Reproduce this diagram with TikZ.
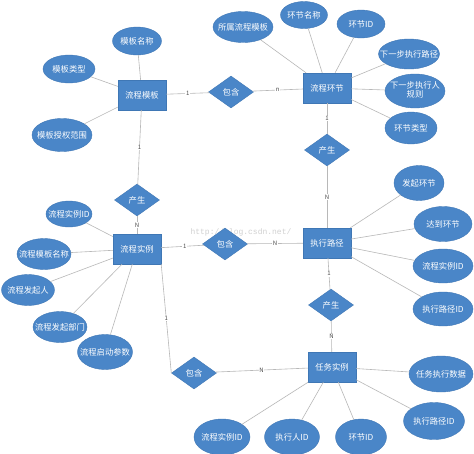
\documentclass[tikz,border=0pt]{standalone}
\usepackage{fontspec}
\setmainfont{Noto Sans CJK SC}
\newfontfamily\wmfont{Liberation Mono}
\usetikzlibrary{shapes.geometric}
\definecolor{erblue}{HTML}{4A86C8}
\definecolor{erborder}{HTML}{3F77B5}
\definecolor{lncol}{HTML}{B8B8B8}
\tikzset{
  base/.style={fill=erblue, draw=erborder, line width=0.4pt, text=white, inner sep=0pt, font=\fontsize{8.3}{9.5}\selectfont},
  ent/.style={base, rectangle, minimum width=48pt, minimum height=30pt},
  rel/.style={base, diamond, minimum width=45pt, minimum height=32pt},
  ell/.style 2 args={base, ellipse, minimum width=#1pt, minimum height=#2pt},
  ln/.style={draw=lncol, line width=0.6pt},
  lbl/.style={fill=white, inner sep=0.6pt, text=black!70, font=\fontsize{6}{7}\selectfont},
}
\newcommand{\zt}[1]{\makebox[0pt]{#1}}
\begin{document}
\begin{tikzpicture}[x=1pt,y=-1pt]
\useasboundingbox (0,0) rectangle (474,453);
\fill[white] (0,0) rectangle (474,453);
% watermark
\node[text=black!18, font=\wmfont\fontsize{8}{9}\selectfont, inner sep=0pt] (wm) at (241,232) {http://blog.csdn.net/};
% entities
\node[ent] (mb) at (142,95) {\zt{流程模板}};
\node[ent] (hj) at (327,88) {\zt{流程环节}};
\node[ent] (sl) at (137,249) {\zt{流程实例}};
\node[ent] (lj) at (327,243) {\zt{执行路径}};
\node[ent] (rw) at (332,367) {\zt{任务实例}};
% relations
\node[rel] (bh1) at (231,92) {\zt{包含}};
\node[rel] (cs1) at (327,150) {\zt{产生}};
\node[rel] (cs2) at (137,200) {\zt{产生}};
\node[rel] (bh2) at (225,244) {\zt{包含}};
\node[rel] (cs3) at (331,305) {\zt{产生}};
\node[rel] (bh3) at (194,373) {\zt{包含}};
% attributes of 流程模板
\node[ell={49}{28}] (a1) at (137,41) {\zt{模板名称}};
\node[ell={52}{28}] (a2) at (69,69) {\zt{模板类型}};
\node[ell={60}{33}] (a3) at (62,135) {\zt{模板授权范围}};
% attributes of 流程环节
\node[ell={60}{31}] (b1) at (243,27) {\zt{所属流程模板}};
\node[ell={47}{27}] (b2) at (304,15) {\zt{环节名称}};
\node[ell={48}{28}] (b3) at (361,24) {\zt{环节ID}};
\node[ell={61}{30}] (b4) at (409,54) {\zt{下一步执行路径}};
\node[ell={60}{34}] (b5) at (415,91) {\zt{\begin{tabular}{@{}c@{}}下一步执行人\\[-1pt]规则\end{tabular}}};
\node[ell={52}{32}] (b6) at (411,128) {\zt{环节类型}};
% attributes of 流程实例
\node[ell={46}{26}] (c1) at (69,214) {\zt{流程实例ID}};
\node[ell={54}{31}] (c2) at (44,254) {\zt{流程模板名称}};
\node[ell={53}{31}] (c3) at (28,290) {\zt{流程发起人}};
\node[ell={54}{31}] (c4) at (60,327) {\zt{流程发起部门}};
\node[ell={55}{35}] (c5) at (105,352) {\zt{流程启动参数}};
% attributes of 执行路径
\node[ell={50}{35}] (d1) at (419,183) {\zt{发起环节}};
\node[ell={58}{35}] (d2) at (443,224) {\zt{达到环节}};
\node[ell={60}{34}] (d3) at (443,266) {\zt{流程实例ID}};
\node[ell={60}{34}] (d4) at (443,309) {\zt{执行路径ID}};
% attributes of 任务实例
\node[ell={64}{36}] (e1) at (441,374) {\zt{任务执行数据}};
\node[ell={61}{37}] (e2) at (434,421) {\zt{执行路径ID}};
\node[ell={56}{36}] (e3) at (222,437) {\zt{流程实例ID}};
\node[ell={55}{36}] (e4) at (292,437) {\zt{执行人ID}};
\node[ell={51}{36}] (e5) at (361,437) {\zt{环节ID}};
% relationship connectors
\draw[ln] (mb) -- node[lbl] {1} (bh1);
\draw[ln] (bh1) -- node[lbl] {n} (hj);
\draw[ln] (mb) -- node[lbl] {1} (cs2);
\draw[ln] (cs2) -- node[lbl] {N} (sl);
\draw[ln] (hj) -- node[lbl] {1} (cs1);
\draw[ln] (cs1) -- node[lbl] {N} (lj);
\draw[ln] (sl) -- node[lbl,pos=0.55] {1} (bh2);
\draw[ln] (bh2) -- node[lbl] {N} (lj);
\draw[ln] (lj) -- node[lbl] {1} (cs3);
\draw[ln] (cs3) -- node[lbl] {N} (rw);
\draw[ln] (sl.south east) -- node[lbl] {1} (bh3.west);
\draw[ln] (bh3) -- node[lbl] {N} (rw);
% attribute connectors
\foreach \a in {a1,a2,a3} \draw[ln] (\a) -- (mb);
\foreach \a in {b1,b2,b3,b4,b5,b6} \draw[ln] (\a) -- (hj);
\foreach \a in {c1,c2,c3,c4,c5} \draw[ln] (\a) -- (sl);
\foreach \a in {d1,d2,d3,d4} \draw[ln] (\a) -- (lj);
\foreach \a in {e1,e2,e3,e4,e5} \draw[ln] (\a) -- (rw);
\end{tikzpicture}
\end{document}
